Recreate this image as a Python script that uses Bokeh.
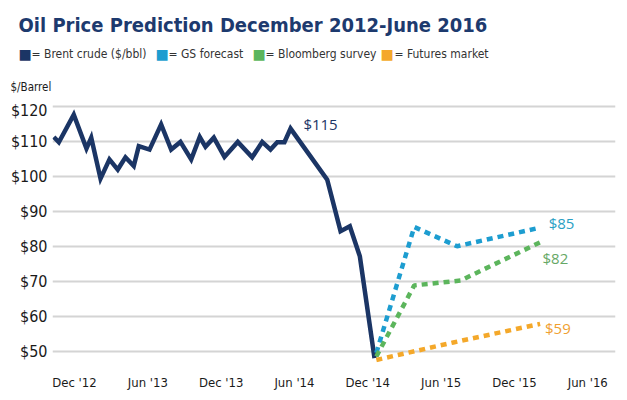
from bokeh.plotting import figure
from bokeh.layouts import column
from bokeh.models import FixedTicker, NumeralTickFormatter, Label, Range1d
from bokeh.embed import file_html
from bokeh.resources import INLINE

# ---- data (x = months relative to Dec 2012) ----
brent_month = [-1.69, -1.28, -0.06, 0.98, 1.37, 2.13, 2.86, 3.54, 4.17, 4.85, 5.26,
               6.14, 7.09, 7.91, 8.67, 9.55, 10.25, 10.72, 11.4, 12.27, 13.36, 14.54,
               15.36, 16.04, 16.59, 17.18, 17.68, 20.68, 21.77, 22.53, 23.35, 24.55]
brent_price = [111.2, 109.7, 117.6, 107.9, 111.0, 99.3, 104.8, 101.9, 105.4, 102.9, 108.6,
               107.6, 114.8, 107.6, 109.8, 104.8, 111.2, 108.4, 111.0, 105.5, 109.8, 105.4,
               109.8, 107.6, 109.7, 109.7, 113.6, 99.0, 84.3, 85.7, 77.1, 48.0]

gs_month = [24.7, 27.8, 31.3, 38.1]
gs_price = [49.5, 85.5, 80.0, 85.3]

bb_month = [24.7, 27.8, 31.6, 38.1]
bb_price = [48.5, 68.8, 70.2, 81.1]

fut_month = [24.7, 31.0, 38.1]
fut_price = [47.5, 52.5, 57.8]

tick_months = [0, 6, 12, 18, 24, 30, 36, 42]
tick_labels = ["Dec '12", "Jun '13", "Dec '13", "Jun '14", "Dec '14", "Jun '15", "Dec '15", "Jun '16"]
y_ticks = [50, 60, 70, 80, 90, 100, 110, 120]

title_text = "Oil Price Prediction December 2012-June 2016"
end_labels = ["$115", "$85", "$82", "$59"]
legend_names = ["= Brent crude ($/bbl)", "= GS forecast", "= Bloomberg survey", "= Futures market"]
unit_text = "$/Barrel"

NAVY = "#1b3565"
BLUE = "#1d9dd0"
GREEN = "#5cb55c"
ORANGE = "#f4a82a"
COND = "DejaVu Sans Condensed, Liberation Sans Narrow, Roboto"

# ---- header figure (title, legend, unit label) ----
head = figure(width=623, height=100, output_backend="svg", toolbar_location=None,
              x_range=Range1d(0, 623), y_range=Range1d(0, 100),
              min_border=0, x_axis_type=None, y_axis_type=None)
head.frame_align = False
head.outline_line_color = None
head.grid.visible = False
head.add_layout(Label(x=18, y=76, text=title_text, text_font=COND, text_font_size="20px",
                      text_font_style="bold", text_color="#1d3a6e", text_baseline="middle"))
sq_x = [18, 155, 252, 380]
tx_x = [31, 168, 265, 394]
for sx, tx, name, col in zip(sq_x, tx_x, legend_names, [NAVY, BLUE, GREEN, ORANGE]):
    head.add_layout(Label(x=sx, y=47, text="■", text_font="DejaVu Sans", text_font_size="14px",
                          text_color=col, text_baseline="middle"))
    head.add_layout(Label(x=tx, y=47, text=name, text_font=COND, text_font_size="12px",
                          text_color="#333333", text_baseline="middle"))
head.add_layout(Label(x=10, y=14, text=unit_text, text_font=COND, text_font_size="11.5px",
                      text_color="#1a1a1a", text_baseline="middle"))

# ---- main chart ----
p = figure(frame_width=563, frame_height=262, output_backend="svg", toolbar_location=None,
           x_range=Range1d(-1.8, 44.27), y_range=Range1d(46.77, 121.63),
           min_border_left=52, min_border_right=8, min_border_top=0, min_border_bottom=28)
p.frame_align = False
p.outline_line_color = None
p.xgrid.visible = False
p.ygrid.grid_line_color = "#d4d4d4"
p.ygrid.grid_line_width = 2
p.ygrid.ticker = FixedTicker(ticks=y_ticks)

p.yaxis.ticker = FixedTicker(ticks=y_ticks)
p.yaxis.formatter = NumeralTickFormatter(format="$0")
p.xaxis.ticker = FixedTicker(ticks=tick_months)
p.xaxis.major_label_overrides = {m: l for m, l in zip(tick_months, tick_labels)}
for ax in (p.xaxis, p.yaxis):
    ax.axis_line_color = None
    ax.major_tick_line_color = None
    ax.minor_tick_line_color = None
    ax.major_tick_out = 0
    ax.major_tick_in = 0
    ax.major_label_text_font = COND
    ax.major_label_text_font_size = "13px"
    ax.major_label_text_color = "#1a1a1a"
p.yaxis.major_label_text_font_size = "16px"
p.yaxis.major_label_standoff = 5
p.xaxis.major_label_standoff = 12

p.line(brent_month, brent_price, line_color=NAVY, line_width=4.5, line_join="miter")
p.line(gs_month, gs_price, line_color=BLUE, line_width=4.5, line_dash="6 5")
p.line(bb_month, bb_price, line_color=GREEN, line_width=4.5, line_dash="6 5")
p.line(fut_month, fut_price, line_color=ORANGE, line_width=4.5, line_dash="6 5")

lab_font = "Open Sans"
p.add_layout(Label(x=brent_month[26] + 1.05, y=brent_price[26] + 1.2, text=end_labels[0],
                   text_color=NAVY, text_font=lab_font, text_font_size="15px",
                   text_baseline="middle"))
p.add_layout(Label(x=gs_month[-1] + 0.7, y=gs_price[-1] + 1.2, text=end_labels[1],
                   text_color="#2aa0c4", text_font=lab_font, text_font_size="15px",
                   text_baseline="middle"))
p.add_layout(Label(x=bb_month[-1] + 0.2, y=bb_price[-1] - 4.6, text=end_labels[2],
                   text_color="#66a866", text_font=lab_font, text_font_size="15px",
                   text_baseline="middle"))
p.add_layout(Label(x=fut_month[-1] + 0.4, y=fut_price[-1] - 1.1, text=end_labels[3],
                   text_color="#f0a030", text_font=lab_font, text_font_size="15px",
                   text_baseline="middle"))

layout = column(head, p, spacing=0)
open("out.html", "w").write(file_html(layout, INLINE))
